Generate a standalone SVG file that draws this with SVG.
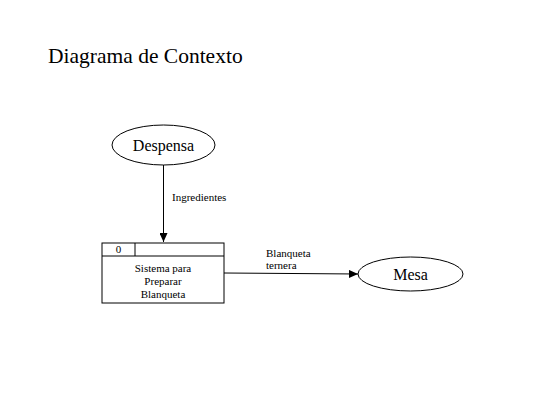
<svg xmlns="http://www.w3.org/2000/svg" width="560" height="420" viewBox="0 0 560 420">
<defs>
<style>
text{font-family:"Liberation Serif","Times New Roman",serif;fill:#000}
.shape{fill:#fff;stroke:#000;stroke-width:1}
.conn{stroke:#000;stroke-width:1;fill:none}
.s{font-size:11px}
</style>
<marker id="arr" markerWidth="10" markerHeight="8" refX="9" refY="4" orient="auto" markerUnits="userSpaceOnUse">
<path d="M0,0 L9,4 L0,8 z" fill="#000"/>
</marker>
</defs>
<rect width="560" height="420" fill="#fff"/>
<text x="48" y="63" style="font-size:21.5px">Diagrama de Contexto</text>
<g id="connectors">
<line class="conn" x1="163.5" y1="165" x2="163.5" y2="242" marker-end="url(#arr)"/>
<text class="s" x="172" y="201">Ingredientes</text>
<line class="conn" x1="224" y1="273" x2="358" y2="274" marker-end="url(#arr)"/>
<text class="s" x="266" y="257">Blanqueta</text>
<text class="s" x="266" y="269">ternera</text>
</g>
<g id="despensa">
<ellipse class="shape" cx="163.5" cy="145" rx="51.5" ry="20"/>
<text x="163.5" y="151" text-anchor="middle" style="font-size:16px">Despensa</text>
</g>
<g id="sistema">
<rect class="shape" x="102" y="243" width="122" height="60"/>
<line class="conn" x1="102" y1="256" x2="224" y2="256"/>
<line class="conn" x1="135" y1="243" x2="135" y2="256"/>
<text class="s" x="118.5" y="253" text-anchor="middle">0</text>
<text class="s" x="163" y="272" text-anchor="middle">Sistema para</text>
<text class="s" x="163" y="285" text-anchor="middle">Preparar</text>
<text class="s" x="163" y="298" text-anchor="middle">Blanqueta</text>
</g>
<g id="mesa">
<ellipse class="shape" cx="410.5" cy="274" rx="52.5" ry="17"/>
<text x="410.5" y="280" text-anchor="middle" style="font-size:16px">Mesa</text>
</g>
</svg>
